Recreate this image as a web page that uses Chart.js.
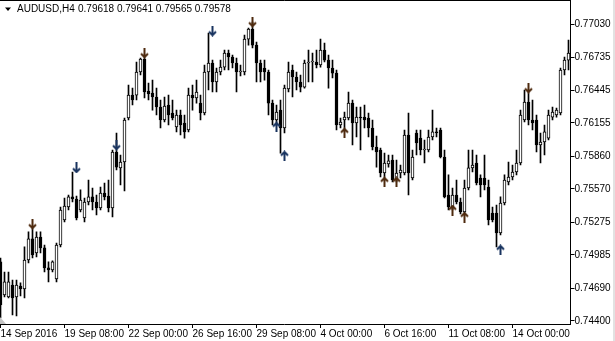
<!DOCTYPE html>
<html>
<head>
<meta charset="utf-8">
<script src="https://cdn.jsdelivr.net/npm/chart.js@4/dist/chart.umd.min.js"></script>
<style>
  html, body { margin: 0; padding: 0; background: #fff; overflow: hidden; }
  #contenedor { position: relative; width: 615px; height: 341px; overflow: hidden; }
  #grafico { position: absolute; left: -2px; top: 0; }
</style>
</head>
<body>
<div id="contenedor"><canvas id="grafico" width="617" height="341"></canvas></div>
<script>
// Titulo del grafico
const simbolo = 'AUDUSD,H4';
const valoresTitulo = '0.79618 0.79641 0.79565 0.79578';

// Etiquetas del eje de tiempo (una cada 16 velas)
const etiquetasTiempo = ['14 Sep 2016', '19 Sep 08:00', '22 Sep 00:00', '26 Sep 16:00', '29 Sep 08:00',
  '4 Oct 00:00', '6 Oct 16:00', '11 Oct 08:00', '14 Oct 00:00'];

// Etiquetas del eje de precios
const etiquetasPrecio = [0.77030, 0.76735, 0.76445, 0.76155, 0.75860, 0.75570, 0.75275, 0.74985, 0.74690, 0.74400];

// Velas H4 (apertura, maximo, minimo, cierre)
const apertura = [
  0.74922, 0.74629, 0.74612, 0.74718, 0.74612, 0.74709, 0.74682, 0.74939, 0.75126, 0.75001,
  0.75143, 0.75046, 0.74869, 0.74851, 0.74771, 0.75072, 0.75294, 0.75409, 0.75498, 0.75480,
  0.75382, 0.75312, 0.75453, 0.75498, 0.75453, 0.75400, 0.75533, 0.75506, 0.75400, 0.75896,
  0.75755, 0.75808, 0.76198, 0.76401, 0.76401, 0.76605, 0.76720, 0.76437, 0.76419, 0.76384,
  0.76295, 0.76180, 0.76313, 0.76242, 0.76118, 0.76224, 0.76153, 0.76091, 0.76401, 0.76375,
  0.76330, 0.76242, 0.76605, 0.76685, 0.76517, 0.76605, 0.76649, 0.76773, 0.76738, 0.76685,
  0.76605, 0.76605, 0.76897, 0.76986, 0.76844, 0.76685, 0.76641, 0.76605, 0.76330, 0.76180,
  0.76268, 0.76109, 0.76455, 0.76623, 0.76561, 0.76517, 0.76472, 0.76685, 0.76694, 0.76694,
  0.76667, 0.76800, 0.76711, 0.76641, 0.76596, 0.76136, 0.76180, 0.76198, 0.76330, 0.76153,
  0.76206, 0.76206, 0.76198, 0.76109, 0.75941, 0.75914, 0.75710, 0.75790, 0.75825, 0.75648,
  0.75710, 0.75710, 0.76047, 0.75666, 0.76065, 0.76020, 0.75914, 0.75914, 0.76029, 0.76074,
  0.76091, 0.75852, 0.75515, 0.75409, 0.75515, 0.75453, 0.75365, 0.75577, 0.75755, 0.75799,
  0.75666, 0.75666, 0.75586, 0.75356, 0.75356, 0.75179, 0.75444, 0.75631, 0.75675, 0.75719,
  0.75799, 0.76180, 0.76339, 0.76180, 0.76180, 0.75958, 0.75985, 0.76020, 0.76206, 0.76224,
  0.76242, 0.76623, 0.76711
];
const maximo = [
  0.74957, 0.74833, 0.74833, 0.74762, 0.74762, 0.74736, 0.75055, 0.75188, 0.75223, 0.75188,
  0.75188, 0.75072, 0.74922, 0.74931, 0.75090, 0.75409, 0.75489, 0.75515, 0.75719, 0.75506,
  0.75560, 0.75489, 0.75648, 0.75577, 0.75515, 0.75586, 0.75622, 0.75648, 0.75914, 0.76065,
  0.75870, 0.76198, 0.76490, 0.76463, 0.76694, 0.76729, 0.76756, 0.76508, 0.76534, 0.76463,
  0.76357, 0.76384, 0.76401, 0.76357, 0.76268, 0.76268, 0.76224, 0.76463, 0.76490, 0.76534,
  0.76401, 0.76667, 0.76951, 0.76711, 0.76641, 0.76711, 0.76800, 0.76800, 0.76756, 0.76729,
  0.76667, 0.76933, 0.76995, 0.77048, 0.76871, 0.76711, 0.76711, 0.76623, 0.76357, 0.76313,
  0.76357, 0.76490, 0.76694, 0.76667, 0.76605, 0.76579, 0.76711, 0.76800, 0.76773, 0.76800,
  0.76897, 0.76862, 0.76756, 0.76711, 0.76623, 0.76198, 0.76251, 0.76428, 0.76357, 0.76295,
  0.76295, 0.76313, 0.76242, 0.76180, 0.76038, 0.75932, 0.75887, 0.75870, 0.75870, 0.75825,
  0.75781, 0.76091, 0.76242, 0.75914, 0.76091, 0.76091, 0.76003, 0.76091, 0.76268, 0.76109,
  0.76109, 0.75914, 0.75693, 0.75577, 0.75648, 0.75489, 0.75648, 0.75914, 0.75914, 0.75870,
  0.75693, 0.75870, 0.75648, 0.75409, 0.75427, 0.75498, 0.75693, 0.75808, 0.75781, 0.75914,
  0.76268, 0.76446, 0.76446, 0.76357, 0.76224, 0.76065, 0.76136, 0.76268, 0.76295, 0.76286,
  0.76641, 0.76738, 0.76889
];
const minimo = [
  0.74426, 0.74612, 0.74603, 0.74452, 0.74443, 0.74620, 0.74603, 0.74913, 0.74957, 0.74966,
  0.75001, 0.74833, 0.74745, 0.74833, 0.74745, 0.75055, 0.75276, 0.75382, 0.75453, 0.75294,
  0.75365, 0.75276, 0.75427, 0.75382, 0.75338, 0.75382, 0.75471, 0.75365, 0.75320, 0.75737,
  0.75604, 0.75551, 0.76180, 0.76313, 0.76357, 0.76579, 0.76375, 0.76357, 0.76268, 0.76224,
  0.76109, 0.76162, 0.76136, 0.76180, 0.76074, 0.76047, 0.76020, 0.76074, 0.76268, 0.76330,
  0.76180, 0.76224, 0.76446, 0.76428, 0.76428, 0.76579, 0.76623, 0.76623, 0.76641, 0.76428,
  0.76570, 0.76579, 0.76844, 0.76818, 0.76517, 0.76517, 0.76534, 0.76224, 0.76136, 0.76136,
  0.75887, 0.76065, 0.76428, 0.76384, 0.76446, 0.76428, 0.76463, 0.76517, 0.76517, 0.76641,
  0.76649, 0.76694, 0.76463, 0.76552, 0.76091, 0.76109, 0.76091, 0.76180, 0.75958, 0.76029,
  0.75914, 0.76109, 0.76029, 0.75914, 0.75763, 0.75675, 0.75666, 0.75763, 0.75631, 0.75631,
  0.75666, 0.75693, 0.75515, 0.75648, 0.75870, 0.75870, 0.75799, 0.75896, 0.76003, 0.76029,
  0.75843, 0.75489, 0.75382, 0.75382, 0.75436, 0.75347, 0.75356, 0.75560, 0.75719, 0.75604,
  0.75498, 0.75560, 0.75250, 0.75276, 0.75055, 0.75161, 0.75427, 0.75604, 0.75648, 0.75693,
  0.75781, 0.76162, 0.76136, 0.76091, 0.75896, 0.75799, 0.75870, 0.76003, 0.76180, 0.76206,
  0.76224, 0.76579, 0.76623
];
const cierre = [
  0.74541, 0.74745, 0.74745, 0.74603, 0.74718, 0.74682, 0.74939, 0.75126, 0.74984, 0.75143,
  0.75046, 0.74869, 0.74851, 0.74922, 0.75072, 0.75382, 0.75418, 0.75498, 0.75480, 0.75312,
  0.75471, 0.75453, 0.75498, 0.75453, 0.75400, 0.75533, 0.75498, 0.75400, 0.75896, 0.75763,
  0.75808, 0.76180, 0.76401, 0.76357, 0.76605, 0.76720, 0.76428, 0.76410, 0.76384, 0.76295,
  0.76180, 0.76304, 0.76224, 0.76198, 0.76224, 0.76136, 0.76074, 0.76401, 0.76375, 0.76428,
  0.76242, 0.76605, 0.76685, 0.76517, 0.76605, 0.76649, 0.76773, 0.76738, 0.76685, 0.76605,
  0.76614, 0.76897, 0.76986, 0.76844, 0.76685, 0.76605, 0.76605, 0.76330, 0.76180, 0.76251,
  0.76109, 0.76463, 0.76605, 0.76561, 0.76517, 0.76472, 0.76685, 0.76694, 0.76703, 0.76667,
  0.76800, 0.76711, 0.76641, 0.76596, 0.76136, 0.76162, 0.76206, 0.76330, 0.76153, 0.76206,
  0.76198, 0.76180, 0.76109, 0.75941, 0.75896, 0.75710, 0.75799, 0.75817, 0.75648, 0.75710,
  0.75737, 0.76047, 0.75710, 0.75852, 0.75976, 0.75914, 0.75923, 0.76029, 0.76074, 0.76065,
  0.75852, 0.75498, 0.75409, 0.75515, 0.75453, 0.75365, 0.75577, 0.75755, 0.75781, 0.75622,
  0.75604, 0.75604, 0.75294, 0.75294, 0.75179, 0.75444, 0.75648, 0.75675, 0.75719, 0.75799,
  0.76224, 0.76339, 0.76180, 0.76153, 0.75958, 0.75985, 0.76074, 0.76224, 0.76251, 0.76268,
  0.76623, 0.76711, 0.76773
];

// Flechas de senales (vela, precio, tipo)
const flechasAbajoVela = [8, 19, 29, 36, 53, 63, 132];
const flechasAbajoPrecio = [0.75258, 0.75755, 0.75958, 0.76773, 0.76968, 0.77048, 0.76463];
const flechasAbajoTipo = ['marron', 'azul', 'azul', 'marron', 'azul', 'marron', 'marron'];
const flechasArribaVela = [69, 71, 86, 96, 99, 113, 116, 125];
const flechasArribaPrecio = [0.76118, 0.75861, 0.76065, 0.75631, 0.75631, 0.75382, 0.75320, 0.75028];
const flechasArribaTipo = ['azul', 'azul', 'marron', 'marron', 'marron', 'marron', 'marron', 'azul'];

// Rango visible del eje de precios
const precioMin = 0.74372;
const precioMax = 0.77243;

const coloresFlecha = { azul: '#18335f', marron: '#4e2a0e' };

// Dibujar una flecha como imagen para usarla de pointStyle
function crearFlecha(direccion, color) {
  const c = document.createElement('canvas');
  c.width = 9;
  c.height = 11;
  const g = c.getContext('2d');
  g.strokeStyle = color;
  g.lineWidth = 2;
  g.beginPath();
  if (direccion === 'abajo') {
    g.moveTo(4.5, 0);
    g.lineTo(4.5, 9.5);
    g.moveTo(1, 6);
    g.lineTo(4.5, 9.5);
    g.lineTo(8, 6);
  } else {
    g.moveTo(4.5, 11);
    g.lineTo(4.5, 1.5);
    g.moveTo(1, 5);
    g.lineTo(4.5, 1.5);
    g.lineTo(8, 5);
  }
  g.stroke();
  return c;
}

const imagenesFlecha = {
  abajo: { azul: crearFlecha('abajo', coloresFlecha.azul), marron: crearFlecha('abajo', coloresFlecha.marron) },
  arriba: { azul: crearFlecha('arriba', coloresFlecha.azul), marron: crearFlecha('arriba', coloresFlecha.marron) }
};

// Armar los datos para Chart.js
const velas = apertura.map((_, i) => i);
const cuerpos = apertura.map((o, i) => [o, cierre[i]]);
const mechas = minimo.map((l, i) => [l, maximo[i]]);
const rellenos = apertura.map((o, i) => (cierre[i] >= o ? '#ffffff' : '#000000'));

function serieFlechas(indices, precios) {
  const serie = velas.map(() => null);
  indices.forEach((v, k) => { serie[v] = precios[k]; });
  return serie;
}

function tipoFlecha(indices, tipos, indice) {
  const k = indices.indexOf(indice);
  return k >= 0 ? tipos[k] : 'azul';
}

// Marco superior, titulo y detalles del terminal
const marco = {
  id: 'marco',
  afterDraw(chart) {
    const { ctx, chartArea } = chart;
    const dx = 2; // el canvas esta corrido 2px a la izquierda
    ctx.save();
    ctx.strokeStyle = '#000';
    ctx.lineWidth = 1;
    ctx.beginPath();
    ctx.moveTo(0, 0.5);
    ctx.lineTo(chartArea.right, 0.5);
    ctx.stroke();

    // triangulito del titulo
    ctx.fillStyle = '#000';
    ctx.beginPath();
    ctx.moveTo(5 + dx, 7.5);
    ctx.lineTo(11 + dx, 7.5);
    ctx.lineTo(8 + dx, 11);
    ctx.closePath();
    ctx.fill();

    ctx.font = '10px "Liberation Sans", Arial, sans-serif';
    ctx.textBaseline = 'middle';
    ctx.textAlign = 'left';
    ctx.fillText(simbolo, 17 + dx, 9);
    ctx.fillText(valoresTitulo, 78 + dx, 9);

    // marca gris de desplazamiento abajo a la izquierda
    ctx.fillStyle = '#c4c4c4';
    ctx.beginPath();
    ctx.moveTo(0 + dx, 317);
    ctx.lineTo(0 + dx, chartArea.bottom);
    ctx.lineTo(6 + dx, chartArea.bottom);
    ctx.closePath();
    ctx.fill();

    // borde gris de la ventana
    ctx.fillStyle = '#e2e2e2';
    ctx.fillRect(613 + dx, 0, 2, 341);
    ctx.restore();
  }
};

Chart.defaults.font.family = '"Liberation Sans", Arial, sans-serif';
Chart.defaults.font.size = 10;
Chart.defaults.color = '#000';

const ctx = document.getElementById('grafico').getContext('2d');
const grafico = new Chart(ctx, {
  type: 'bar',
  data: {
    labels: velas,
    datasets: [
      {
        label: 'Mechas',
        data: mechas,
        backgroundColor: '#000',
        borderWidth: 0,
        barThickness: 1,
        grouped: false,
        order: 3
      },
      {
        label: 'Cuerpos',
        data: cuerpos,
        backgroundColor: rellenos,
        borderColor: '#000',
        borderWidth: 1,
        borderSkipped: false,
        barThickness: 3,
        grouped: false,
        order: 2
      },
      {
        type: 'line',
        label: 'Flechas abajo',
        data: serieFlechas(flechasAbajoVela, flechasAbajoPrecio),
        showLine: false,
        pointRadius: 5,
        pointStyle: (c) => imagenesFlecha.abajo[tipoFlecha(flechasAbajoVela, flechasAbajoTipo, c.dataIndex)],
        order: 1
      },
      {
        type: 'line',
        label: 'Flechas arriba',
        data: serieFlechas(flechasArribaVela, flechasArribaPrecio),
        showLine: false,
        pointRadius: 5,
        pointStyle: (c) => imagenesFlecha.arriba[tipoFlecha(flechasArribaVela, flechasArribaTipo, c.dataIndex)],
        order: 1
      }
    ]
  },
  options: {
    responsive: false,
    animation: false,
    events: [],
    // sin relleno automatico por el tamano de los puntos
    layout: { autoPadding: false, padding: { left: 0.5, right: 0, top: 0, bottom: 0 } },
    plugins: {
      legend: { display: false },
      tooltip: { enabled: false }
    },
    scales: {
      x: {
        offset: true,
        grid: { display: true, drawOnChartArea: false, offset: false, tickLength: 4, color: '#000' },
        border: { display: true, color: '#000' },
        ticks: {
          autoSkip: false,
          maxRotation: 0,
          align: 'start',
          padding: 0,
          callback: (valor) => etiquetasTiempo[valor / 16]
        },
        afterBuildTicks: (escala) => {
          escala.ticks = escala.ticks.filter(t => t.value % 16 === 0);
        },
        afterFit: (escala) => { escala.height = 17; }
      },
      y: {
        position: 'right',
        min: precioMin,
        max: precioMax,
        grid: { display: true, drawOnChartArea: false, tickLength: 4, color: '#000' },
        border: { display: true, color: '#000' },
        ticks: {
          autoSkip: false,
          padding: 0,
          // altura de linea minima para que no reserve margen arriba
          font: { lineHeight: 0.01 },
          callback: (valor) => valor.toFixed(5)
        },
        afterBuildTicks: (escala) => {
          escala.ticks = etiquetasPrecio.map(v => ({ value: v }));
        },
        afterFit: (escala) => { escala.width = 44.5; }
      }
    }
  },
  plugins: [marco]
});
</script>
</body>
</html>
